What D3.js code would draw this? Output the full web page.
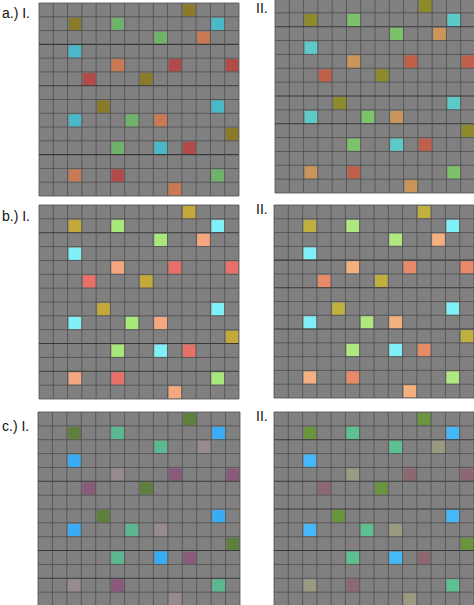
<!DOCTYPE html>
<html><head><meta charset="utf-8">
<script src="https://cdn.jsdelivr.net/npm/d3@7/dist/d3.min.js"></script>
<style>body{margin:0;background:#fff}svg{display:block}</style>
</head><body>
<svg id="c" width="474" height="605"></svg>
<script>
const gridSize = 14;
const cellRows = [0,1,1,1,2,2,3,4,4,4,5,5,7,7,8,8,8,9,10,10,10,12,12,12,13];
const cellCols = [10,2,5,12,8,11,2,5,9,13,3,7,4,12,2,6,8,13,5,8,10,2,5,12,9];
const cellCats = ["olive","olive","green","cyan","green","orange","cyan","orange","red","red","red","olive","olive","cyan","cyan","green","orange","olive","green","cyan","red","orange","red","green","orange"];
const categories = ["olive","green","cyan","orange","red"];
const panelLabels = ["a.) I.","II.","b.) I.","II.","c.) I.","II."];
const palettes = [
  ["#8a7a2c","#6fb36a","#4bb8c9","#c97a55","#b24a4a"],
  ["#8c8a2a","#7cc26a","#5ccac8","#c9955a","#c0604a"],
  ["#c4a83a","#a8e87a","#7ff0f8","#f5a880","#e87068"],
  ["#c0b040","#b0e880","#7ff0f8","#f5b080","#e88a68"],
  ["#5f7f3e","#5cb890","#3aacf5","#978a90","#8a5a7a"],
  ["#6a943e","#5cc090","#44b8f8","#9a9a82","#8c6870"]
];
const boxes = [
  {x:39,y:3,w:200,h:193,lx:2,ly:18,lab:0},
  {x:275,y:-1,w:200,h:194,lx:256,ly:13,lab:1},
  {x:39,y:205,w:200,h:194,lx:2,ly:221,lab:2},
  {x:274,y:205,w:200,h:193,lx:256,ly:214,lab:3},
  {x:38,y:412,w:202,h:194,lx:2,ly:431,lab:4},
  {x:274,y:412,w:200,h:194,lx:256,ly:421,lab:5}
];
const thick = [[3,6,11],[2,7,9],[2,10,12],[4,6,9],[5,10,12],[2,5,7,10]];
const svg = d3.select("#c");
boxes.forEach((b,i)=>{
  const g = svg.append("g");
  const x = d3.scaleBand().domain(d3.range(gridSize)).range([b.x,b.x+b.w]);
  const y = d3.scaleBand().domain(d3.range(gridSize)).range([b.y,b.y+b.h]);
  const col = d3.scaleOrdinal().domain(categories).range(palettes[i]);
  g.append("rect").attr("x",b.x).attr("y",b.y).attr("width",b.w).attr("height",b.h).attr("fill","#808080");
  g.selectAll("rect.c").data(cellRows.map((r,k)=>({r,c:cellCols[k],t:cellCats[k]}))).join("rect")
    .attr("class","c").attr("x",d=>x(d.c)+1).attr("y",d=>y(d.r)+1)
    .attr("width",x.bandwidth()-1.5).attr("height",y.bandwidth()-1.5).attr("fill",d=>col(d.t));
  d3.range(gridSize+1).forEach(k=>{
    const xx = b.x + k*x.step(), yy = b.y + k*y.step();
    g.append("line").attr("x1",xx).attr("x2",xx).attr("y1",b.y).attr("y2",b.y+b.h).attr("stroke","#4e4e4e").attr("stroke-width",0.8);
    g.append("line").attr("x1",b.x).attr("x2",b.x+b.w).attr("y1",yy).attr("y2",yy)
      .attr("stroke",thick[i].includes(k)?"#383838":"#4e4e4e").attr("stroke-width",thick[i].includes(k)?1.1:0.8);
  });
  svg.append("text").attr("x",b.lx).attr("y",b.ly).attr("font-family","Liberation Sans, Arial, sans-serif")
    .attr("font-size",14).attr("fill","#111").text(panelLabels[b.lab]);
});
</script>
</body></html>
